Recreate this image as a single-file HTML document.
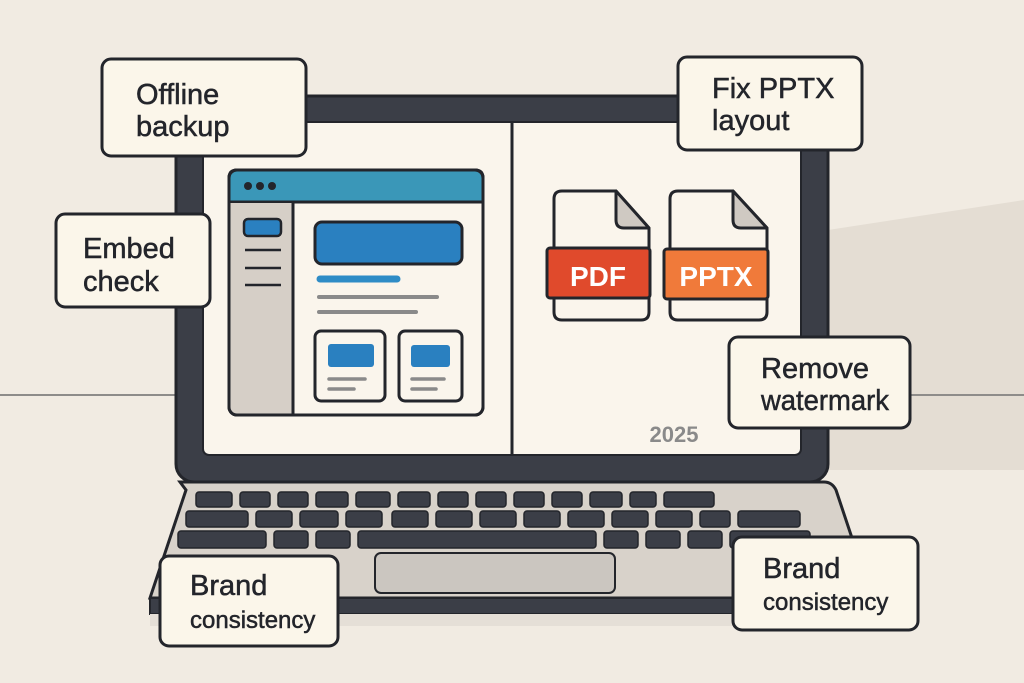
<!DOCTYPE html>
<html><head><meta charset="utf-8"><style>
html,body{margin:0;padding:0;background:#f1ebe2;}
svg{display:block}
text{font-family:"Liberation Sans","DejaVu Sans",sans-serif;}
</style></head><body>
<svg width="1024" height="683" viewBox="0 0 1024 683" xmlns="http://www.w3.org/2000/svg">
<rect width="1024" height="683" fill="#f1ebe2"/>
<path d="M828 230 L1024 200 L1024 470 L828 470 Z" fill="#e4ddd3"/>
<line x1="0" y1="395" x2="180" y2="395" stroke="#8e8c8a" stroke-width="2"/>
<line x1="828" y1="395" x2="1024" y2="395" stroke="#8e8c8a" stroke-width="2"/>
<rect x="176" y="96" width="652" height="386" rx="18" fill="#3b3e47" stroke="#23252b" stroke-width="3"/>
<rect x="203" y="122" width="598" height="333" rx="6" fill="#faf5ec" stroke="#23252b" stroke-width="2"/>
<line x1="512" y1="122" x2="512" y2="455" stroke="#23252b" stroke-width="3"/>
<path d="M180 482 L824 482 Q832 482 836 490 L872 598 L150 598 L186 490 Z" fill="#d8d2ca" stroke="#23252b" stroke-width="3"/>
<rect x="150" y="598" width="722" height="16" fill="#3b3e47" stroke="#23252b" stroke-width="2"/>
<rect x="150" y="614" width="722" height="12" fill="#e5dfd7"/>
<g fill="#3b3e47" stroke="#23252b" stroke-width="1.5">
<rect x="196" y="492" width="36" height="15" rx="3"/>
<rect x="240" y="492" width="30" height="15" rx="3"/>
<rect x="278" y="492" width="30" height="15" rx="3"/>
<rect x="316" y="492" width="32" height="15" rx="3"/>
<rect x="356" y="492" width="34" height="15" rx="3"/>
<rect x="398" y="492" width="32" height="15" rx="3"/>
<rect x="438" y="492" width="30" height="15" rx="3"/>
<rect x="476" y="492" width="30" height="15" rx="3"/>
<rect x="514" y="492" width="30" height="15" rx="3"/>
<rect x="552" y="492" width="30" height="15" rx="3"/>
<rect x="590" y="492" width="32" height="15" rx="3"/>
<rect x="630" y="492" width="26" height="15" rx="3"/>
<rect x="664" y="492" width="50" height="15" rx="3"/>
<rect x="186" y="511" width="62" height="16" rx="3"/>
<rect x="256" y="511" width="36" height="16" rx="3"/>
<rect x="300" y="511" width="38" height="16" rx="3"/>
<rect x="346" y="511" width="36" height="16" rx="3"/>
<rect x="392" y="511" width="36" height="16" rx="3"/>
<rect x="436" y="511" width="36" height="16" rx="3"/>
<rect x="480" y="511" width="36" height="16" rx="3"/>
<rect x="524" y="511" width="36" height="16" rx="3"/>
<rect x="568" y="511" width="36" height="16" rx="3"/>
<rect x="612" y="511" width="36" height="16" rx="3"/>
<rect x="656" y="511" width="36" height="16" rx="3"/>
<rect x="700" y="511" width="30" height="16" rx="3"/>
<rect x="738" y="511" width="62" height="16" rx="3"/>
<rect x="178" y="531" width="88" height="17" rx="3"/>
<rect x="274" y="531" width="34" height="17" rx="3"/>
<rect x="316" y="531" width="34" height="17" rx="3"/>
<rect x="358" y="531" width="238" height="17" rx="3"/>
<rect x="604" y="531" width="34" height="17" rx="3"/>
<rect x="646" y="531" width="34" height="17" rx="3"/>
<rect x="688" y="531" width="34" height="17" rx="3"/>
<rect x="730" y="531" width="80" height="17" rx="3"/>
</g>
<rect x="375" y="553" width="240" height="40" rx="6" fill="#cbc6c0" stroke="#23252b" stroke-width="2"/>
<rect x="229" y="170" width="254" height="245" rx="8" fill="#faf5ec" stroke="#23252b" stroke-width="3"/>
<path d="M229 202 V178 Q229 170 237 170 H475 Q483 170 483 178 V202 Z" fill="#3a97b8" stroke="#23252b" stroke-width="3"/>
<path d="M230 203 H293 V414 H237 Q230 414 230 407 Z" fill="#d6cfc7"/>
<line x1="293" y1="202" x2="293" y2="415" stroke="#23252b" stroke-width="3"/>
<rect x="229" y="170" width="254" height="245" rx="8" fill="none" stroke="#23252b" stroke-width="3"/>
<g fill="#23252b"><circle cx="248" cy="186" r="4"/><circle cx="260" cy="186" r="4"/><circle cx="272" cy="186" r="4"/></g>
<rect x="244" y="219" width="37" height="17" rx="4" fill="#2a80c0" stroke="#23252b" stroke-width="2.5"/>
<g stroke="#23252b" stroke-width="2.5"><line x1="245" y1="250" x2="281" y2="250"/><line x1="245" y1="268" x2="281" y2="268"/><line x1="245" y1="285" x2="281" y2="285"/></g>
<rect x="315" y="222" width="147" height="42" rx="7" fill="#2a80c0" stroke="#23252b" stroke-width="3"/>
<line x1="320" y1="279" x2="397" y2="279" stroke="#2e8cc6" stroke-width="7" stroke-linecap="round"/>
<line x1="319" y1="297" x2="437" y2="297" stroke="#8a8a8a" stroke-width="4" stroke-linecap="round"/>
<line x1="319" y1="312" x2="416" y2="312" stroke="#8a8a8a" stroke-width="4" stroke-linecap="round"/>
<rect x="315" y="331" width="70" height="70" rx="6" fill="#faf5ec" stroke="#23252b" stroke-width="3"/>
<rect x="328" y="344" width="46" height="23" rx="3" fill="#2a80c0"/>
<line x1="329" y1="379" x2="365" y2="379" stroke="#8a8a8a" stroke-width="3.5" stroke-linecap="round"/>
<line x1="329" y1="389" x2="354" y2="389" stroke="#8a8a8a" stroke-width="3.5" stroke-linecap="round"/>
<rect x="399" y="331" width="63" height="70" rx="6" fill="#faf5ec" stroke="#23252b" stroke-width="3"/>
<rect x="411" y="345" width="39" height="22" rx="3" fill="#2a80c0"/>
<line x1="412" y1="379" x2="444" y2="379" stroke="#8a8a8a" stroke-width="3.5" stroke-linecap="round"/>
<line x1="412" y1="389" x2="436" y2="389" stroke="#8a8a8a" stroke-width="3.5" stroke-linecap="round"/>
<g stroke="#23252b" stroke-width="3" stroke-linejoin="round">
<path d="M562 191 H616 L649 228 V312 Q649 320 641 320 H562 Q554 320 554 312 V199 Q554 191 562 191 Z" fill="#faf5ec"/>
<path d="M616 191 V220 Q616 228 624 228 H649 Z" fill="#cfc9c2"/>
<rect x="547" y="248" width="103" height="50" rx="3" fill="#e04a2c"/>
<path d="M678 191 H733 L767 228 V312 Q767 320 759 320 H678 Q670 320 670 312 V199 Q670 191 678 191 Z" fill="#faf5ec"/>
<path d="M733 191 V220 Q733 228 741 228 H767 Z" fill="#cfc9c2"/>
<rect x="664" y="249" width="104" height="50" rx="3" fill="#f07a3a"/>
</g>
<text x="598" y="286" font-size="28" font-weight="bold" fill="#fff" text-anchor="middle">PDF</text>
<text x="716" y="286" font-size="28" font-weight="bold" fill="#fff" text-anchor="middle">PPTX</text>
<text x="674" y="442" font-size="22" font-weight="bold" fill="#8a8a8a" text-anchor="middle">2025</text>
<g fill="#fbf6ea" stroke="#23252b" stroke-width="3">
<rect x="102" y="59" width="204" height="97" rx="9"/>
<rect x="678" y="57" width="184" height="93" rx="9"/>
<rect x="56" y="214" width="154" height="93" rx="9"/>
<rect x="729" y="337" width="181" height="91" rx="9"/>
<rect x="160" y="556" width="178" height="90" rx="9"/>
<rect x="733" y="537" width="185" height="93" rx="9"/>
</g>
<g fill="#23252b" stroke="#23252b" stroke-width="0.5" font-size="29">
<text x="136" y="104">Offline</text><text x="136" y="136">backup</text>
<text x="712" y="98">Fix PPTX</text><text x="712" y="130">layout</text>
<text x="83" y="258">Embed</text><text x="83" y="291">check</text>
<text x="761" y="378">Remove</text><text x="761" y="410" textLength="128" lengthAdjust="spacingAndGlyphs">watermark</text>
<text x="190" y="595">Brand</text><text x="190" y="628" font-size="24">consistency</text>
<text x="763" y="578">Brand</text><text x="763" y="610" font-size="24">consistency</text>
</g>
</svg>
</body></html>
